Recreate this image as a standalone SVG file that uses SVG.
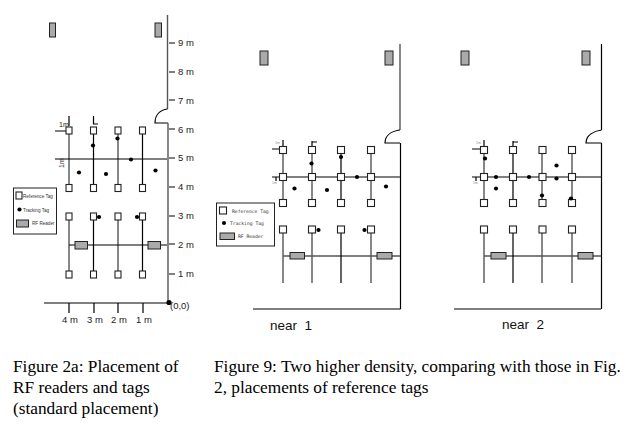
<svg xmlns="http://www.w3.org/2000/svg" width="634" height="428" viewBox="0 0 634 428">
<defs>
<style>
.l{stroke:#000;stroke-width:1.2;fill:none}
.g{stroke:#555;stroke-width:1.4;fill:none}
.t{fill:#fff;stroke:#222;stroke-width:1.1}
.r{fill:#aaa;stroke:#222;stroke-width:1}
.d{fill:#000}
.m{font:9.500px "Liberation Sans",sans-serif;fill:#222}
.s{font:4.600px "Liberation Sans",sans-serif;fill:#333}
.x{font:4.700px "DejaVu Sans Mono",monospace;fill:#333}
.y{font:3.500px "Liberation Sans",sans-serif;fill:#888}
.c{font:17.300px "Liberation Serif",serif;fill:#000}
.n{font:13.500px "Liberation Sans",sans-serif;fill:#111}
</style>
</defs>
<rect width="634" height="428" fill="#fff"/>
<g id="connectors">
<path class="g" d="M167.500 15V109"/>
<path class="l" d="M167.500 109C160 110 155 115 155 123H168"/>
<path class="g" d="M168 123V302"/>
<path class="l" d="M44 303H168M169 43h6M169 72h6M169 100h6M169 129h6M169 158h6M169 187h6M169 216h6M169 244h6M169 274h6M69 303v10M94 303v10M118 303v10M143 303v10"/>
<path class="g" d="M69 130V188M69 217V274M118 130V188M118 217V274"/>
<path class="l" d="M93.500 130V188M93.500 217V274M142.500 130V188M142.500 217V274M55 159H167M69 245H167M69 116V126M55 131H67M93.500 116V124H98"/>
<path class="g" d="M400 44V130"/>
<path class="l" d="M400 130C392 131 385 135 385 143H400"/>
<path class="l" d="M400.500 143V309M253 309H400.500"/>
<path class="g" d="M283 150V203M283 229V283M312 150V203M312 229V283M371 150V203M371 229V283M283 177H400M283 256H400"/>
<path class="l" d="M341 150V203M341 229V283M272 149H282M283 140V147M312 141V147M312 142H317M272 177H280M276 177V181"/>
<path class="g" d="M484 150V203M484 229V283M542 150V203M542 229V283M572 150V203M572 229V283M484 177H601M484 256H601M454 309H601"/>
<path class="l" d="M601.500 44V130M601.500 130C594 131 586 135 586 143H601.500M601.500 143V309M513 150V203M513 229V283M472 149H482M484 140V147M513 141V147M513 142H518M472 177H480M476 177V181"/>
</g>
<g id="plan-a">
<rect class="r" x="49.500" y="23" width="6" height="14"/>
<rect class="r" x="155" y="23" width="6.500" height="14"/>
<g class="t">
<rect x="66" y="127" width="6" height="7"/><rect x="90.500" y="127" width="6" height="7"/><rect x="115" y="127" width="6" height="7"/><rect x="139.500" y="127" width="6" height="7"/>
<rect x="66" y="184.500" width="6" height="7"/><rect x="90.500" y="184.500" width="6" height="7"/><rect x="115" y="184.500" width="6" height="7"/><rect x="139.500" y="184.500" width="6" height="7"/>
<rect x="66" y="213" width="6" height="7"/><rect x="90.500" y="213" width="6" height="7"/><rect x="115" y="213" width="6" height="7"/><rect x="139.500" y="213" width="6" height="7"/>
<rect x="66" y="271" width="6" height="7"/><rect x="90.500" y="271" width="6" height="7"/><rect x="115" y="271" width="6" height="7"/><rect x="139.500" y="271" width="6" height="7"/>
</g>
<rect class="r" x="75" y="241.500" width="12.500" height="7.500"/>
<rect class="r" x="148" y="241.500" width="12.500" height="7.500"/>
<g class="d">
<circle cx="79" cy="172.500" r="2.100"/><circle cx="93" cy="145.500" r="2.100"/><circle cx="106" cy="174" r="2.100"/><circle cx="117.500" cy="138.500" r="2.100"/><circle cx="131" cy="159.500" r="2.100"/><circle cx="155.500" cy="170.500" r="2.100"/><circle cx="99" cy="217" r="2.100"/><circle cx="137" cy="217" r="2.100"/><circle cx="169" cy="302.500" r="2.600"/>
</g>
<g class="m">
<text x="178" y="46">9 m</text><text x="178" y="74.500">8 m</text><text x="178" y="103.500">7 m</text><text x="178" y="132.500">6 m</text><text x="178" y="161">5 m</text><text x="178" y="190">4 m</text><text x="178" y="219">3 m</text><text x="178" y="247.500">2 m</text><text x="178" y="276.500">1 m</text>
<text x="62" y="323">4 m</text><text x="87" y="323">3 m</text><text x="111" y="323">2 m</text><text x="136" y="323">1 m</text>
<text x="170" y="309">(0,0)</text>
<text x="59" y="127" style="font-size:7px">1m</text>
<text transform="translate(63.500 168) rotate(-90)" style="font-size:7px">1m</text>
</g>
<g id="legend-a">
<rect x="13.500" y="188" width="43" height="46" fill="#fff" stroke="#222"/>
<rect class="t" x="16" y="192" width="6" height="7"/>
<text class="s" x="23" y="197.500">Reference Tag</text>
<circle class="d" cx="19.500" cy="209.500" r="2.100"/>
<text class="s" x="23" y="211.500">Tracking Tag</text>
<rect class="r" x="16.500" y="220" width="12" height="7"/>
<text class="s" x="32" y="225">RF Reader</text>
</g>
</g>
<g id="plan-b">
<rect class="r" x="260" y="51" width="8" height="14"/>
<rect class="r" x="385" y="51" width="8" height="14"/>
<g class="t">
<rect x="279.500" y="146.500" width="7" height="7"/><rect x="308.500" y="146.500" width="7" height="7"/><rect x="337.500" y="146.500" width="7" height="7"/><rect x="367.500" y="146.500" width="7" height="7"/>
<rect x="279.500" y="173.500" width="7" height="7"/><rect x="308.500" y="173.500" width="7" height="7"/><rect x="337.500" y="173.500" width="7" height="7"/><rect x="367.500" y="173.500" width="7" height="7"/>
<rect x="279.500" y="199.500" width="7" height="7"/><rect x="308.500" y="199.500" width="7" height="7"/><rect x="337.500" y="199.500" width="7" height="7"/><rect x="367.500" y="199.500" width="7" height="7"/>
<rect x="279.500" y="226" width="7" height="7"/><rect x="308.500" y="226" width="7" height="7"/><rect x="337.500" y="226" width="7" height="7"/><rect x="367.500" y="226" width="7" height="7"/>
</g>
<rect class="r" x="290" y="252.500" width="14.500" height="6.500"/>
<rect class="r" x="377" y="252.500" width="15" height="6.500"/>
<g class="d">
<circle cx="294.500" cy="188.500" r="2.100"/><circle cx="311.500" cy="163.500" r="2.100"/><circle cx="327" cy="190" r="2.100"/><circle cx="341" cy="157" r="2.100"/><circle cx="357" cy="177" r="2.100"/><circle cx="386" cy="186.500" r="2.100"/><circle cx="318.500" cy="230" r="2.100"/><circle cx="364.500" cy="230" r="2.100"/>
</g>
<text class="y" x="275" y="144">1m</text>
<text class="y" x="272" y="184">1m</text>
<g id="legend-b">
<rect x="216.500" y="203" width="58" height="43" fill="#fff" stroke="#222"/>
<rect class="t" x="219.500" y="207" width="7" height="7"/>
<text class="x" x="232" y="212.500">Reference Tag</text>
<circle class="d" cx="224" cy="223" r="2.100"/>
<text class="x" x="230" y="225">Tracking Tag</text>
<rect class="r" x="220" y="233" width="14.500" height="6.500"/>
<text class="x" x="238" y="238">RF Reader</text>
</g>
<text class="n" x="270" y="329.500" xml:space="preserve">near  1</text>
</g>
<g id="plan-c">
<rect class="r" x="461" y="51" width="8" height="14"/>
<rect class="r" x="582" y="51" width="8" height="14"/>
<g class="t">
<rect x="480.500" y="146.500" width="7" height="7"/><rect x="509.500" y="146.500" width="7" height="7"/><rect x="539" y="146.500" width="7" height="7"/><rect x="568.500" y="146.500" width="7" height="7"/>
<rect x="480.500" y="173.500" width="7" height="7"/><rect x="509.500" y="173.500" width="7" height="7"/><rect x="539" y="173.500" width="7" height="7"/><rect x="568.500" y="173.500" width="7" height="7"/>
<rect x="480.500" y="199.500" width="7" height="7"/><rect x="509.500" y="199.500" width="7" height="7"/><rect x="539" y="199.500" width="7" height="7"/><rect x="568.500" y="199.500" width="7" height="7"/>
<rect x="480.500" y="226" width="7" height="7"/><rect x="509.500" y="226" width="7" height="7"/><rect x="539" y="226" width="7" height="7"/><rect x="568.500" y="226" width="7" height="7"/>
</g>
<rect class="r" x="491" y="252.500" width="15" height="6.500"/>
<rect class="r" x="578" y="252.500" width="15" height="6.500"/>
<g class="d">
<circle cx="485" cy="158.500" r="2.100"/><circle cx="496" cy="177" r="2.100"/><circle cx="496" cy="188.500" r="2.100"/><circle cx="529" cy="177" r="2.100"/><circle cx="542" cy="195.500" r="2.100"/><circle cx="556.500" cy="165.500" r="2.100"/><circle cx="556.500" cy="178.500" r="2.100"/><circle cx="571" cy="198.500" r="2.100"/>
</g>
<text class="y" x="476" y="144">1m</text>
<text class="y" x="473" y="184">1m</text>
<text class="n" x="502" y="328.500" xml:space="preserve">near  2</text>
</g>
<g id="captions">
<text class="c" x="13" y="372">Figure 2a: Placement of</text>
<text class="c" x="13" y="393">RF readers and tags</text>
<text class="c" x="13" y="414">(standard placement)</text>
<text class="c" x="214" y="372">Figure 9: Two higher density, comparing with those in Fig.</text>
<text class="c" x="214" y="393">2, placements of reference tags</text>
</g>
</svg>
